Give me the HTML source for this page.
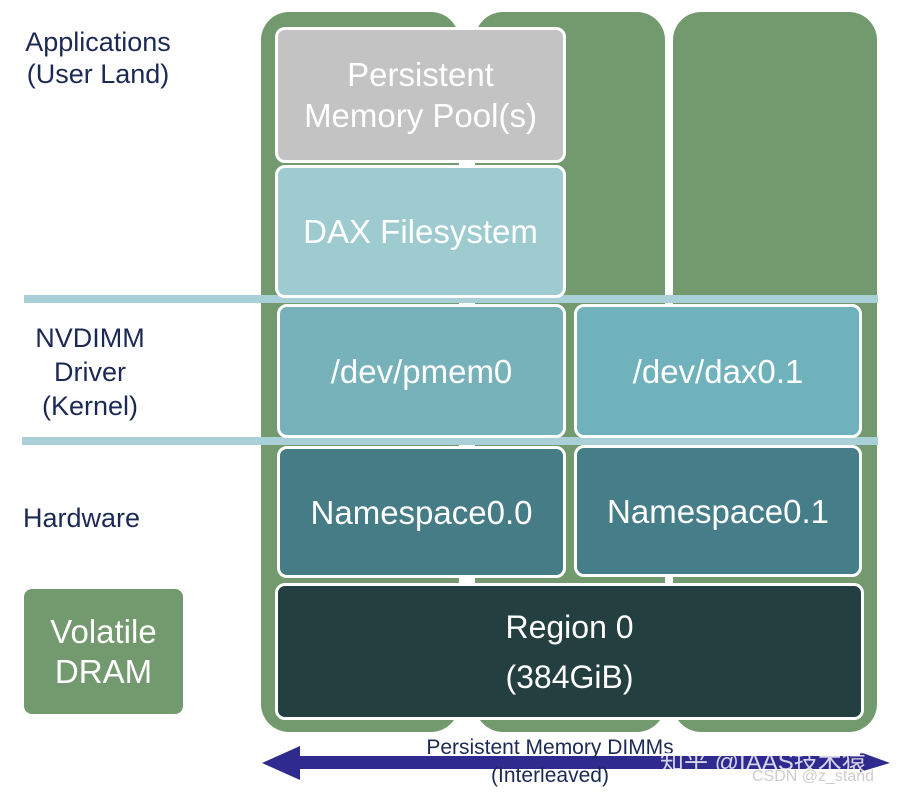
<!DOCTYPE html>
<html><head><meta charset="utf-8"><style>
html,body{margin:0;padding:0;background:#fff;}
body{width:906px;height:798px;position:relative;overflow:hidden;font-family:"Liberation Sans",sans-serif;}
.a{position:absolute;}
.col{background:#739a6f;border-radius:28px;}
.box{border:3px solid #fff;border-radius:10px;color:#fff;display:flex;align-items:center;justify-content:center;text-align:center;box-sizing:border-box;font-size:33px;line-height:41px;}
.lbl{color:#1b2a55;font-size:27px;line-height:32px;text-align:center;}
.line{background:#a9d0d6;height:8px;}
</style></head><body>
<div class="a col" style="left:261px;top:12px;width:198px;height:720px"></div>
<div class="a col" style="left:475px;top:12px;width:190px;height:720px"></div>
<div class="a col" style="left:673px;top:12px;width:204px;height:720px"></div>

<div class="a line" style="left:24px;top:295px;width:854px;"></div>
<div class="a line" style="left:22px;top:437px;width:856px;"></div>

<div class="a box" style="left:275px;top:27px;width:291px;height:136px;background:#c3c3c3">Persistent<br>Memory Pool(s)</div>
<div class="a box" style="left:275px;top:165px;width:291px;height:133px;background:#9dcbd0">DAX Filesystem</div>
<div class="a box" style="left:277px;top:304px;width:289px;height:134px;background:#77b2ba">/dev/pmem0</div>
<div class="a box" style="left:574px;top:304px;width:288px;height:134px;background:#6fb2bc">/dev/dax0.1</div>
<div class="a box" style="left:277px;top:446px;width:289px;height:132px;background:#457c86">Namespace0.0</div>
<div class="a box" style="left:574px;top:445px;width:288px;height:132px;background:#457d88">Namespace0.1</div>
<div class="a box" style="left:275px;top:583px;width:589px;height:137px;background:#233f3f;line-height:50px;font-size:32px">Region 0<br>(384GiB)</div>

<div class="a" style="left:24px;top:589px;width:159px;height:125px;background:#739a6f;border-radius:8px;color:#fff;font-size:33px;line-height:40px;display:flex;align-items:center;justify-content:center;text-align:center">Volatile<br>DRAM</div>

<div class="a lbl" style="left:8px;top:26px;width:180px">Applications<br>(User Land)</div>
<div class="a lbl" style="left:0px;top:321px;width:180px;line-height:34px">NVDIMM<br>Driver<br>(Kernel)</div>
<div class="a lbl" style="left:23px;top:502px;width:140px;text-align:left">Hardware</div>

<svg class="a" style="left:0;top:0" width="906" height="798">
<polygon points="262,763 300,746 300,756 860,756 860,752 890,763 860,772 860,769 300,769 300,780" fill="#2f2a8e"/>
</svg>
<div class="a" style="left:400px;top:734px;width:300px;text-align:center;color:#1b2a55;font-size:21px;line-height:28px">Persistent Memory DIMMs<br>(Interleaved)</div>
<div class="a" style="left:660px;top:742px;color:rgba(255,255,255,0.8);font-size:24px;font-family:'Liberation Sans','Noto Sans CJK SC',sans-serif">知乎 @IAAS技术猿</div>
<div class="a" style="left:752px;top:768px;color:rgba(200,200,200,0.9);font-size:16px">CSDN @z_stand</div>
</body></html>
